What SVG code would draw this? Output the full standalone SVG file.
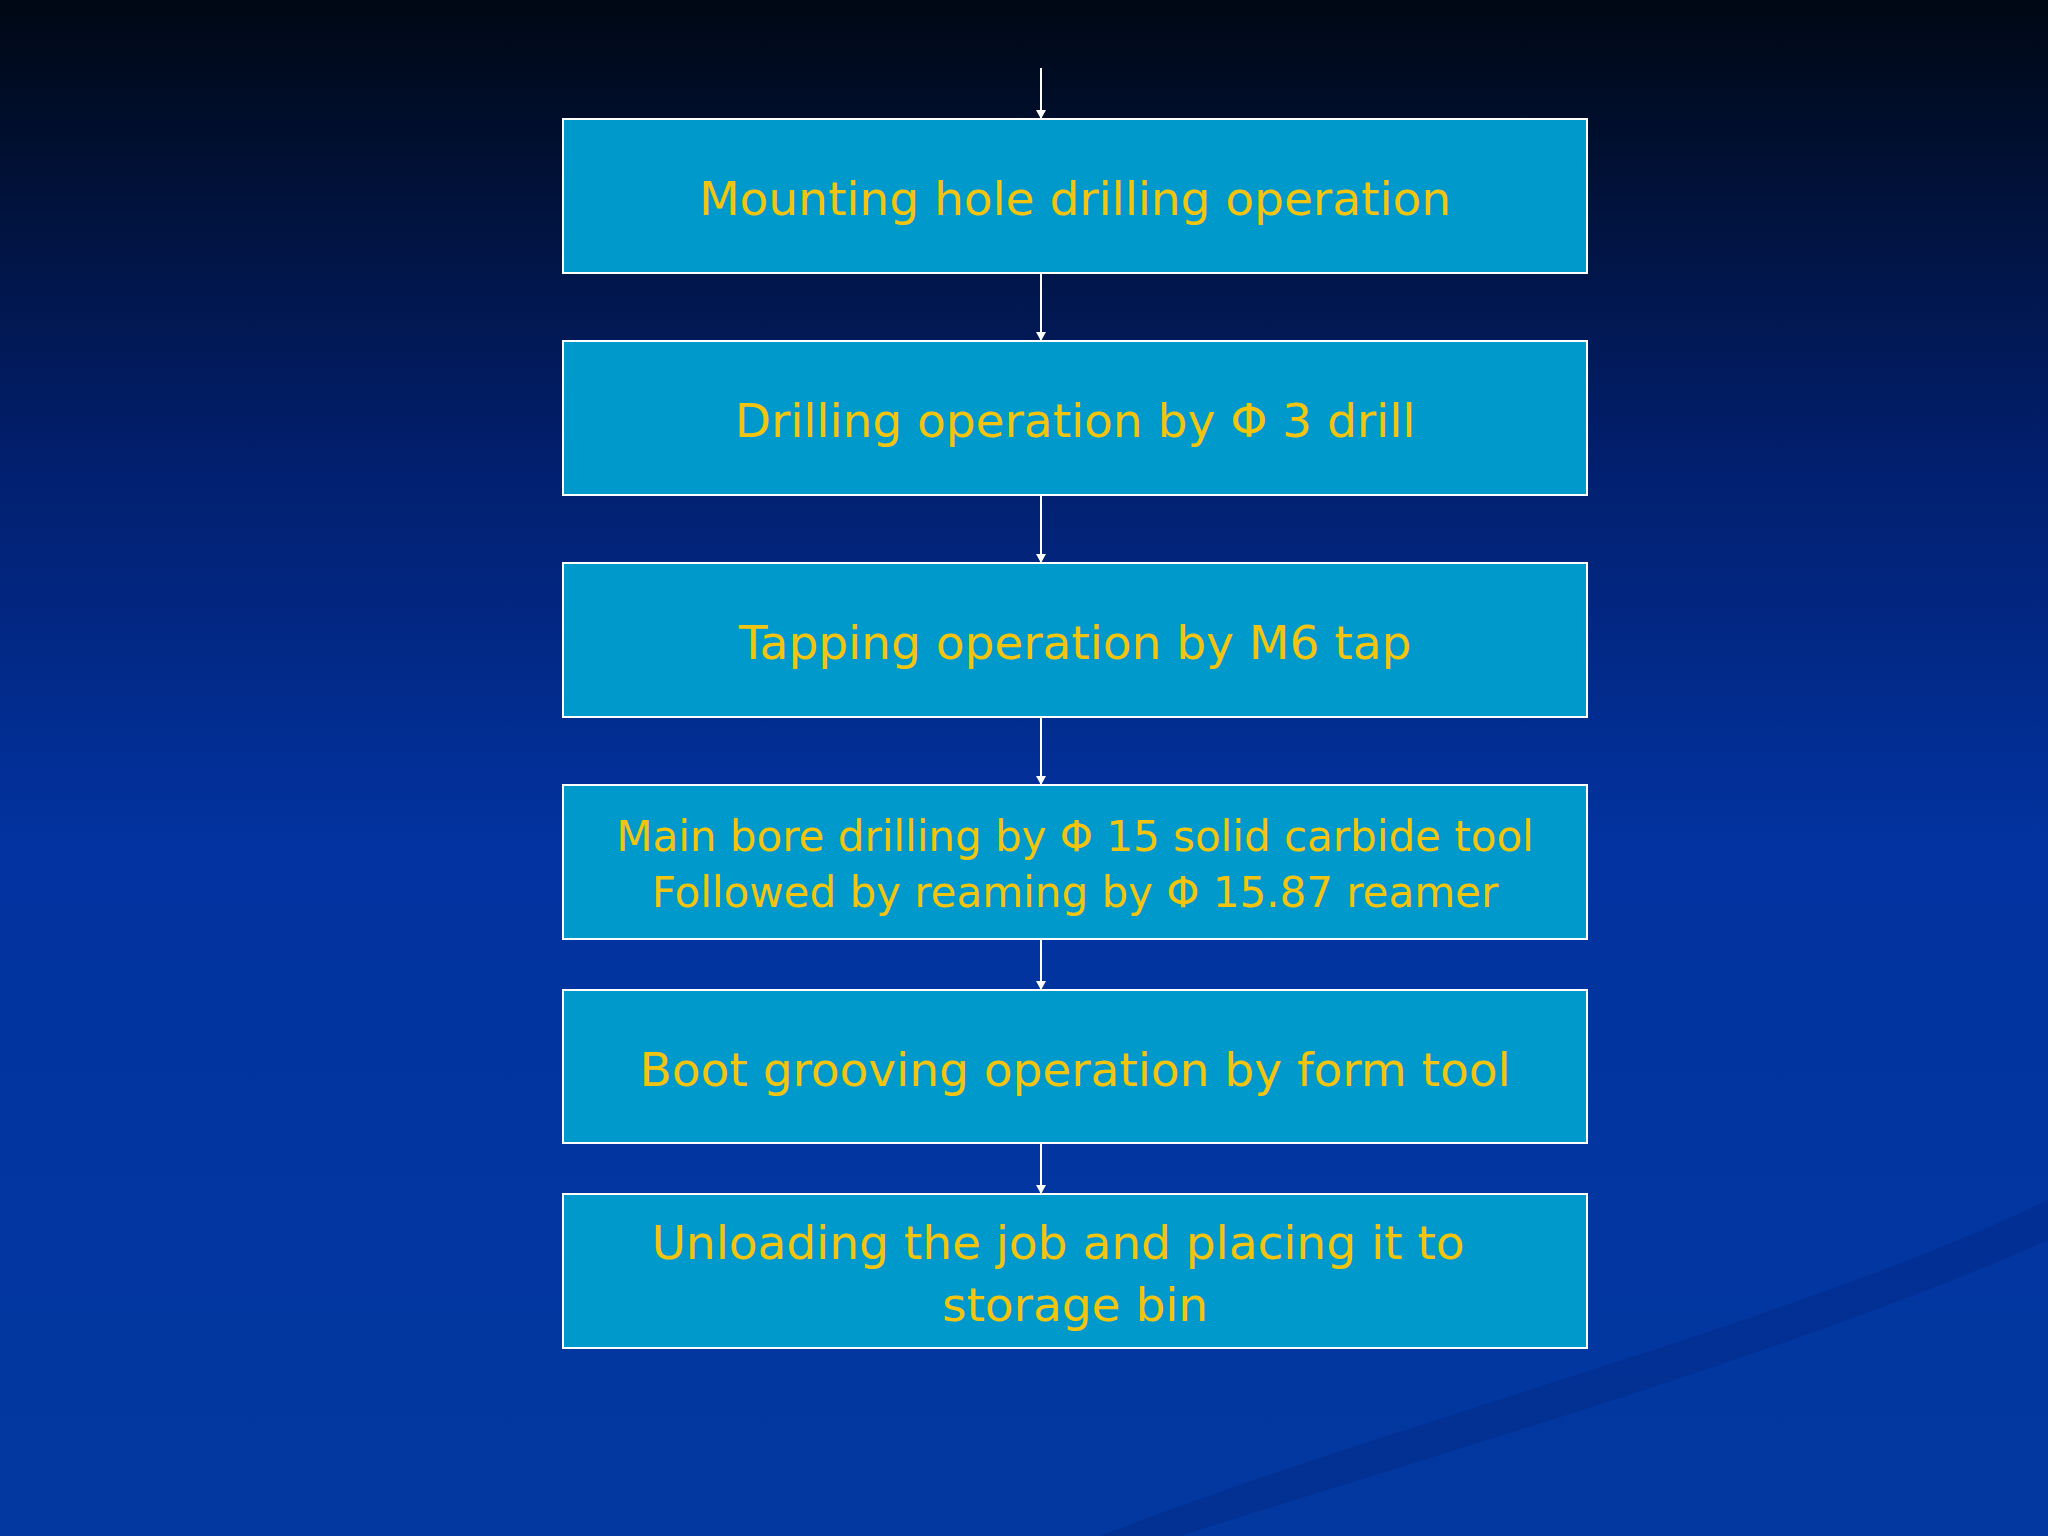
<svg xmlns="http://www.w3.org/2000/svg" width="2048" height="1536" viewBox="0 0 2048 1536">
<defs>
<linearGradient id="bg" x1="0" y1="0" x2="0" y2="1">
<stop offset="0" stop-color="#000814"/>
<stop offset="0.3" stop-color="#021f6e"/>
<stop offset="0.55" stop-color="#0233a0"/>
<stop offset="1" stop-color="#0338a0"/>
</linearGradient>
<marker id="ah" markerWidth="10" markerHeight="10" refX="8" refY="5" orient="auto" markerUnits="userSpaceOnUse">
<path d="M0,0 L9,5 L0,10 Z" fill="#ffffff"/>
</marker>
<style>
.box{fill:#0099cc;stroke:#ffffff;stroke-width:2}
.t{font-family:"DejaVu Sans","Verdana",sans-serif;font-size:47px;fill:#f2c40d;text-anchor:middle}
.s{font-size:42px}
.c{stroke:#ffffff;stroke-width:2;fill:none;marker-end:url(#ah)}
</style>
</defs>
<rect width="2048" height="1536" fill="url(#bg)"/>
<path d="M1100,1536 C1400,1420 1800,1320 2048,1200 L2048,1240 C1800,1350 1450,1450 1180,1536 Z" fill="#022c8a" opacity="0.6"/>
<g id="connectors">
<line class="c" x1="1041" y1="68" x2="1041" y2="118"/>
<line class="c" x1="1041" y1="273" x2="1041" y2="340"/>
<line class="c" x1="1041" y1="495" x2="1041" y2="562"/>
<line class="c" x1="1041" y1="717" x2="1041" y2="784"/>
<line class="c" x1="1041" y1="939" x2="1041" y2="989"/>
<line class="c" x1="1041" y1="1143" x2="1041" y2="1193"/>
</g>
<g id="n1"><rect class="box" x="563" y="119" width="1024" height="154"/><text class="t" x="1075" y="215">Mounting hole drilling operation</text></g>
<g id="n2"><rect class="box" x="563" y="341" width="1024" height="154"/><text class="t" x="1075" y="437">Drilling operation by Φ 3 drill</text></g>
<g id="n3"><rect class="box" x="563" y="563" width="1024" height="154"/><text class="t" x="1075" y="659">Tapping operation by M6 tap</text></g>
<g id="n4"><rect class="box" x="563" y="785" width="1024" height="154"/><text class="t s" x="1075" y="851">Main bore drilling by Φ 15 solid carbide tool</text><text class="t s" x="1075" y="907">Followed by reaming by Φ 15.87 reamer</text></g>
<g id="n5"><rect class="box" x="563" y="990" width="1024" height="153"/><text class="t" x="1075" y="1086">Boot grooving operation by form tool</text></g>
<g id="n6"><rect class="box" x="563" y="1194" width="1024" height="154"/><text class="t" x="1058" y="1259">Unloading the job and placing it to</text><text class="t" x="1075" y="1321">storage bin</text></g>
</svg>
